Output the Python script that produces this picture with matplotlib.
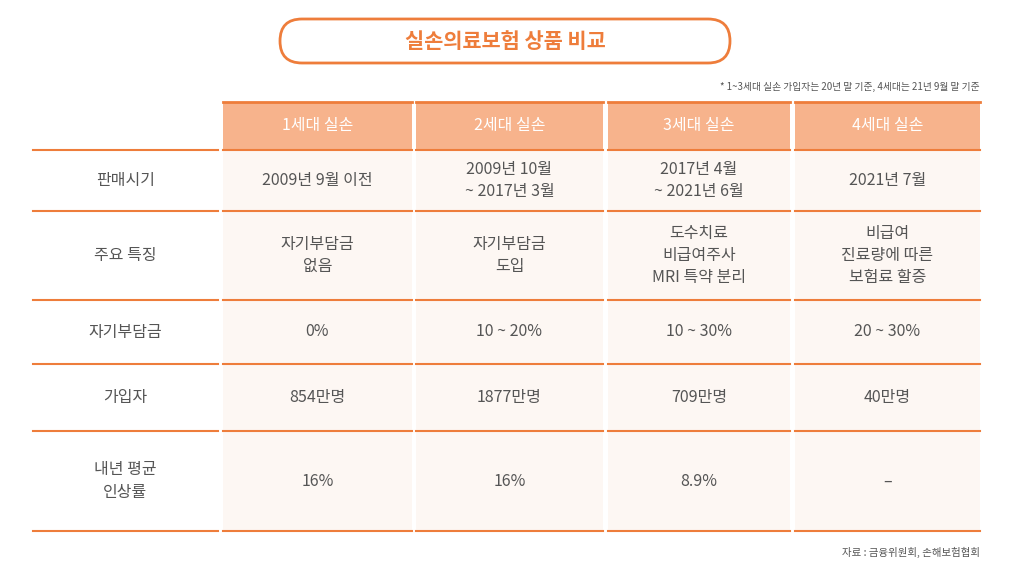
import matplotlib.pyplot as plt
from matplotlib.patches import FancyBboxPatch, Rectangle

plt.rcParams['font.family'] = ['Noto Sans CJK JP', 'Noto Sans CJK KR', 'Noto Sans CJK SC',
                               'Noto Sans CJK TC', 'DejaVu Sans']

title = "실손의료보험 상품 비교"
note = "* 1~3세대 실손 가입자는 20년 말 기준, 4세대는 21년 9월 말 기준"
source = "자료 : 금융위원회, 손해보험협회"

columns = ["1세대 실손", "2세대 실손", "3세대 실손", "4세대 실손"]
row_labels = ["판매시기", "주요 특징", "자기부담금", "가입자", "내년 평균\n인상률"]
sale_period = ["2009년 9월 이전", "2009년 10월\n~ 2017년 3월", "2017년 4월\n~ 2021년 6월", "2021년 7월"]
features = ["자기부담금\n없음", "자기부담금\n도입", "도수치료\n비급여주사\nMRI 특약 분리", "비급여\n진료량에 따른\n보험료 할증"]
copay = ["0%", "10 ~ 20%", "10 ~ 30%", "20 ~ 30%"]
subscribers = ["854만명", "1877만명", "709만명", "40만명"]
increase = ["16%", "16%", "8.9%", "–"]
rows = [sale_period, features, copay, subscribers, increase]

ORANGE = "#ee7d3b"
HEAD = "#f7b38c"
CELL = "#fdf7f3"
TXT = "#555555"

fig = plt.figure(figsize=(10.1, 5.72), dpi=100)
ax = fig.add_axes([0, 0, 1, 1])
ax.set_xlim(0, 1010)
ax.set_ylim(572, 0)
ax.axis('off')

# title box
ax.add_patch(FancyBboxPatch((280, 19), 450, 44, boxstyle="round,pad=0,rounding_size=22",
                            fc="white", ec=ORANGE, lw=2))
ax.text(505, 42, title, color=ORANGE, fontsize=15, fontweight='bold', ha='center', va='center')
ax.text(980, 87, note, color=TXT, fontsize=7, ha='right', va='center')

col_x = [(33, 218), (223, 412), (416, 603), (608, 790), (795, 980)]
head_y = (102, 149)
row_y = [150, 211, 300, 364, 431, 531]

# header
for (x0, x1), name in zip(col_x[1:], columns):
    ax.add_patch(Rectangle((x0, head_y[0]), x1 - x0, head_y[1] - head_y[0], fc=HEAD, ec='none'))
    ax.plot([x0, x1], [head_y[0], head_y[0]], color=ORANGE, lw=2)
    ax.text((x0 + x1) / 2, (head_y[0] + head_y[1]) / 2, name, color='white', fontsize=11.5,
            ha='center', va='center')

for i, (label, vals) in enumerate(zip(row_labels, rows)):
    y0, y1 = row_y[i], row_y[i + 1]
    ym = (y0 + y1) / 2
    x0, x1 = col_x[0]
    ax.plot([x0, x1], [y0, y0], color=ORANGE, lw=1.5)
    ax.text((x0 + x1) / 2, ym, label, color=TXT, fontsize=11.5, ha='center', va='center', linespacing=1.4)
    for (cx0, cx1), v in zip(col_x[1:], vals):
        ax.add_patch(Rectangle((cx0, y0), cx1 - cx0, y1 - y0, fc=CELL, ec='none'))
        ax.plot([cx0, cx1], [y0, y0], color=ORANGE, lw=1.5)
        ax.text((cx0 + cx1) / 2, ym, v, color=TXT, fontsize=11.5, ha='center', va='center', linespacing=1.4)

for x0, x1 in col_x:
    ax.plot([x0, x1], [row_y[-1], row_y[-1]], color=ORANGE, lw=1.5)

ax.text(980, 552, source, color=TXT, fontsize=7.5, ha='right', va='center')

fig.savefig("out.png", dpi=100, facecolor='white')
